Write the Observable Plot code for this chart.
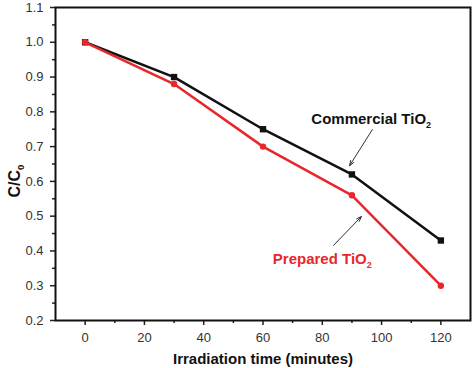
<!DOCTYPE html>
<html>
<head>
<meta charset="utf-8">
<script src="https://cdn.jsdelivr.net/npm/d3@7"></script>
<script src="https://cdn.jsdelivr.net/npm/@observablehq/plot@0.6"></script>
<style>
  html, body { margin: 0; padding: 0; background: #fff; }
  #chart { width: 474px; height: 368px; }
</style>
</head>
<body>
<div id="chart"></div>
<script>
const times = [0, 30, 60, 90, 120];
const commercial = [1.0, 0.90, 0.75, 0.62, 0.43];
const prepared = [1.0, 0.88, 0.70, 0.56, 0.30];
const xTicks = [0, 20, 40, 60, 80, 100, 120];
const xMinorTicks = [10, 30, 50, 70, 90, 110];
const yTicks = [0.2, 0.3, 0.4, 0.5, 0.6, 0.7, 0.8, 0.9, 1.0, 1.1];
const yMinorTicks = [0.25, 0.35, 0.45, 0.55, 0.65, 0.75, 0.85, 0.95, 1.05];
const labels = ["Commercial TiO_2", "Prepared TiO_2"];
const labelX = [96.5, 80];
const labelY = [0.78, 0.375];
const arrowFromX = [96.9, 83.8];
const arrowFromY = [0.749, 0.416];
const arrowToX = [89.2, 93.2];
const arrowToY = [0.645, 0.499];
const colors = ["#111111", "#e8262b"];

const comData = times.map((t, i) => ({t, v: commercial[i]}));
const preData = times.map((t, i) => ({t, v: prepared[i]}));
const labelData = labels.map((l, i) => ({l, x: labelX[i], y: labelY[i], c: colors[i]}));
const arrowData = labels.map((l, i) => ({x1: arrowFromX[i], y1: arrowFromY[i], x2: arrowToX[i], y2: arrowToY[i]}));

const font = "'Liberation Sans', Arial, sans-serif";

const svg = Plot.plot({
  width: 474,
  height: 368,
  marginLeft: 55,
  marginRight: 4,
  marginTop: 7,
  marginBottom: 48,
  style: {fontFamily: font, fontSize: "13px", color: "#222", background: "#fff", overflow: "visible"},
  x: {domain: [-10, 130]},
  y: {domain: [0.2, 1.1]},
  marks: [
    Plot.axisX({ticks: xTicks, tickSize: 5, tickPadding: 7, tickFormat: d => String(d), strokeWidth: 1.5, fontSize: 13, fill: "#333",
      label: "Irradiation time (minutes)", labelAnchor: "center", labelArrow: "none", labelOffset: 43}),
    Plot.axisX({ticks: xMinorTicks, tickSize: 3, text: null, label: null, strokeWidth: 1.5}),
    Plot.axisY({ticks: yTicks, tickSize: 5, tickPadding: 7, tickFormat: d => d.toFixed(1), strokeWidth: 1.5, fontSize: 13, fill: "#333",
      label: "C/C_0", labelAnchor: "center", labelArrow: "none", labelOffset: 47}),
    Plot.axisY({ticks: yMinorTicks, tickSize: 3, text: null, label: null, strokeWidth: 1.5}),
    Plot.frame({stroke: "#111", strokeWidth: 2}),
    Plot.line(comData, {x: "t", y: "v", stroke: colors[0], strokeWidth: 2.5}),
    Plot.dot(comData, {x: "t", y: "v", symbol: "square", r: 3.6, fill: colors[0]}),
    Plot.line(preData, {x: "t", y: "v", stroke: colors[1], strokeWidth: 2.5}),
    Plot.dot(preData, {x: "t", y: "v", symbol: "circle", r: 3.2, fill: colors[1]}),
    Plot.arrow(arrowData, {x1: "x1", y1: "y1", x2: "x2", y2: "y2", stroke: "#333", strokeWidth: 1, headLength: 8, headAngle: 40}),
    Plot.text(labelData, {x: "x", y: "y", text: "l", fill: "c", fontSize: 15, fontWeight: "bold"})
  ]
});

// render subscripts: split "text_sub" into main text plus subscript tspan
svg.querySelectorAll("text").forEach(t => {
  const s = t.textContent;
  if (s.includes("_") && t.querySelectorAll("tspan").length <= 1) {
    const [a, b] = s.split("_");
    const target = t.querySelector("tspan") || t;
    target.textContent = "";
    const m = document.createElementNS("http://www.w3.org/2000/svg", "tspan");
    m.textContent = a;
    const sub = document.createElementNS("http://www.w3.org/2000/svg", "tspan");
    sub.textContent = b;
    sub.setAttribute("font-size", "0.6em");
    sub.setAttribute("dy", "0.45em");
    target.appendChild(m);
    target.appendChild(sub);
  }
});
svg.querySelectorAll('g[aria-label="x-axis label"] text').forEach(t => {
  t.setAttribute("font-weight", "bold");
  t.setAttribute("font-size", "15");
  t.setAttribute("fill", "#111");
});
svg.querySelectorAll('g[aria-label="y-axis label"] text').forEach(t => {
  t.setAttribute("font-weight", "bold");
  t.setAttribute("font-size", "16");
  t.setAttribute("fill", "#111");
  t.setAttribute("transform", (t.getAttribute("transform") || "") + " translate(-17,0)");
});

document.getElementById("chart").appendChild(svg);
</script>
</body>
</html>
